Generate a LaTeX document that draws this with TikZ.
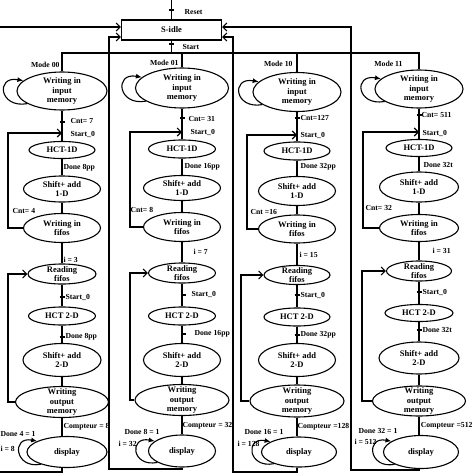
\documentclass[tikz,border=0pt]{standalone}
\usepackage{fontspec}
\setmainfont{Liberation Serif}
\usetikzlibrary{shapes.geometric,arrows.meta}
\newcommand\mytk[2]{\draw (#1-2.5,#2) -- (#1+2.5,#2);}
\begin{document}
\begin{tikzpicture}[x=1pt,y=-1pt,line width=1.1pt,
 st/.style n args={3}{ellipse,draw,fill=white,minimum width=#1,minimum height=#2,inner sep=0pt,
   label={[font=\fontsize{8.5}{9.6}\selectfont\bfseries,align=center,inner sep=0pt]center:#3}},
 lb/.style={font=\fontsize{7.7}{8}\selectfont\bfseries,inner sep=0pt,anchor=west},
 lbe/.style={lb,anchor=east},
 arr/.style={-{Straight Barb[length=4pt,width=8pt]}},
 lp/.style={-{Latex[length=6pt,width=5pt]}}]
\useasboundingbox (0,0) rectangle (474,474);

% S-idle
\node[draw,minimum width=100,minimum height=20,inner sep=0pt,font=\fontsize{8.5}{9}\selectfont\bfseries] (idle) at (171.5,30) {S-idle};
\coordinate (rs) at (171.5,-2);
\coordinate (bus) at (171.5,53);
\draw (rs) -- (idle.north);
\mytk{171.5}{10}
\node[lb] (lreset) at (184,12) {Reset};
\draw (idle.south) -- (bus);
\mytk{171.5}{44}
\node[lb] (lstart) at (182,47) {Start};

% ---------- column 1 ----------
\node[st={90}{38}{Writing in\\input\\memory}] (a1) at (62,91) {};
\node[st={66}{17}{HCT-1D}] (b1) at (62,150) {};
\node[st={77}{26}{Shift+ add\\1-D}] (c1) at (62,189) {};
\node[st={77}{29}{Writing in\\fifos}] (d1) at (62,228) {};
\node[st={68}{20}{Reading\\fifos}] (e1) at (62,274) {};
\node[st={67}{18}{HCT 2-D}] (f1) at (62,316) {};
\node[st={78}{33}{Shift+ add\\2-D}] (g1) at (62,360) {};
\node[st={93}{31}{Writing\\output\\memory}] (h1) at (62,402) {};
\node[st={80}{31}{display}] (k1) at (67,452) {};

% ---------- column 2 ----------
\node[st={93}{40}{Writing in\\input\\memory}] (a2) at (182,88) {};
\node[st={67}{18}{HCT-1D}] (b2) at (182,149) {};
\node[st={77}{25}{Shift+ add\\1-D}] (c2) at (182,188) {};
\node[st={77}{29}{Writing in\\fifos}] (d2) at (182,227) {};
\node[st={67}{20}{Reading\\fifos}] (e2) at (182,273) {};
\node[st={67}{18}{HCT 2-D}] (f2) at (182,316) {};
\node[st={77}{33}{Shift+ add\\2-D}] (g2) at (182,360) {};
\node[st={94}{31}{Writing\\output\\memory}] (h2) at (182,400) {};
\node[st={67}{32}{display}] (k2) at (182,451) {};

% ---------- column 3 ----------
\node[st={88}{39}{Writing in\\input\\memory}] (a3) at (297,92) {};
\node[st={66}{18}{HCT-1D}] (b3) at (297,151) {};
\node[st={77}{29}{Shift+ add\\1-D}] (c3) at (297,191) {};
\node[st={77}{28}{Writing in\\fifos}] (d3) at (297,229) {};
\node[st={66}{19}{Reading\\fifos}] (e3) at (297,275) {};
\node[st={66}{18}{HCT 2-D}] (f3) at (297,317) {};
\node[st={77}{33}{Shift+ add\\2-D}] (g3) at (297,360) {};
\node[st={94}{32}{Writing\\output\\memory}] (h3) at (297,401) {};
\node[st={75}{30}{display}] (k3) at (299,452) {};

% ---------- column 4 ----------
\node[st={88}{38}{Writing in\\input\\memory}] (a4) at (419,89) {};
\node[st={66}{17}{HCT-1D}] (b4) at (419,148) {};
\node[st={79}{30}{Shift+ add\\1-D}] (c4) at (419,187) {};
\node[st={79}{27}{Writing in\\fifos}] (d4) at (419,228) {};
\node[st={65}{20}{Reading\\fifos}] (e4) at (419,271) {};
\node[st={68}{17}{HCT 2-D}] (f4) at (419,313) {};
\node[st={80}{32}{Shift+ add\\2-D}] (g4) at (419,358) {};
\node[st={93}{30}{Writing\\output\\memory}] (h4) at (419,401) {};
\node[st={75}{33}{display}] (k4) at (421,452) {};

% bus from Start to all modes
\draw (a1.north) |- (bus) -| (a4.north);
\draw (a2.north) -- (a2 |- bus);
\draw (a3.north) -- (a3 |- bus);

% vertical chains
\foreach \c in {1,2,3,4}{
  \draw (a\c) -- (b\c);
  \draw (b\c) -- (c\c);
  \draw (c\c) -- (d\c);
  \draw (d\c) -- (e\c);
  \draw (e\c) -- (f\c);
  \draw (f\c) -- (g\c);
  \draw (g\c) -- (h\c);
  \draw (h\c.south) -- (h\c.south |- k\c.north);
  \draw[lp] (a\c.200) .. controls +(-28,5) and +(-28,-5) .. (a\c.165);
  \draw[lp] (k\c.205) .. controls +(-26,5) and +(-26,-5) .. (k\c.160);
}

% inner loops
\coordinate (p1) at (8,133);   \coordinate (q1) at (8,0);
\coordinate (p2) at (130,132); \coordinate (q2) at (130,0);
\coordinate (p3) at (247,135); \coordinate (q3) at (241,0);
\coordinate (p4) at (363,132); \coordinate (q4) at (362,0);
\foreach \c in {1,2,3,4}{
  \draw[arr] (d\c.west) -| (p\c) -- (p\c -| a\c);
  \draw[arr] (h\c.west) -| (q\c |- e\c.west) -- (e\c.west);
}

% returns to S-idle
\coordinate (u1) at (-1,472);  \coordinate (v1) at (0,27);
\coordinate (u2) at (109,469); \coordinate (v2) at (0,37);
\coordinate (u3) at (233,472); \coordinate (v3) at (0,37);
\coordinate (u4) at (351,470); \coordinate (v4) at (0,27);
\draw[arr] (k1.south -| a1) |- (u1) |- (idle.west |- v1);
\draw[arr] (k2.south -| a2) |- (u2) |- (idle.west |- v2);
\draw[arr] (k3.south -| a3) |- (u3) |- (idle.east |- v3);
\draw[arr] (k4.south -| a4) |- (u4) |- (idle.east |- v4);

% ---------- labels column 1 ----------
\node[lbe] (m1) at (60,65) {Mode 00};
\mytk{62}{122}
\node[lb] (n1a) at (70,121) {Cnt= 7};
\node[lb] (n1b) at (70,134) {Start\_0};
\node[lb] (n1c) at (63,168) {Done 8pp};
\node[lb] (n1d) at (12,211) {Cnt= 4};
\node[lb] (n1e) at (63,260) {i = 3};
\mytk{62}{297}
\node[lb] (n1f) at (65,297) {Start\_0};
\mytk{62}{337}
\node[lb] (n1g) at (65,337) {Done 8pp};
\node[lb] (n1h) at (63,427) {Compteur = 8};
\node[lb] (n1i) at (0,434) {Done 4 = 1};
\node[lb] (n1j) at (0,449) {i = 8};

% ---------- labels column 2 ----------
\node[lbe] (m2) at (179,63) {Mode 01};
\mytk{182}{118}
\node[lb] (n2a) at (188,119) {Cnt= 31};
\node[lb] (n2b) at (190,132) {Start\_0};
\node[lb] (n2c) at (184,167) {Done 16pp};
\node[lb] (n2d) at (130,210) {Cnt= 8};
\node[lb] (n2e) at (193,252) {i = 7};
\mytk{183}{295}
\node[lb] (n2f) at (191,294) {Start\_0};
\mytk{183}{334}
\node[lb] (n2g) at (194,334) {Done 16pp};
\node[lb] (n2h) at (182,426) {Compteur = 32};
\node[lb] (n2i) at (124,432) {Done 8 = 1};
\node[lb] (n2j) at (118,444) {i = 32};

% ---------- labels column 3 ----------
\node[lbe] (m3) at (293,64) {Mode 10};
\mytk{297}{118}
\node[lb] (n3a) at (300,118) {Cnt=127};
\node[lb] (n3b) at (300,135) {Start\_0};
\node[lb] (n3c) at (300,167) {Done 32pp};
\node[lb] (n3d) at (250,212) {Cnt =16};
\node[lb] (n3e) at (299,255) {i = 15};
\mytk{297}{295}
\node[lb] (n3f) at (300,295) {Start\_0};
\mytk{297}{335}
\node[lb] (n3g) at (300,335) {Done 32pp};
\node[lb] (n3h) at (297,427) {Compteur =128};
\node[lb] (n3i) at (244,432) {Done 16 = 1};
\node[lb] (n3j) at (237,444) {i = 128};

% ---------- labels column 4 ----------
\node[lbe] (m4) at (403,64) {Mode 11};
\mytk{419}{115}
\node[lb] (n4a) at (421,115) {Cnt= 511};
\node[lb] (n4b) at (422,133) {Start\_0};
\node[lb] (n4c) at (423,165) {Done 32t};
\node[lb] (n4d) at (365,208) {Cnt= 32};
\node[lb] (n4e) at (432,251) {i = 31};
\mytk{419}{292}
\node[lb] (n4f) at (422,292) {Start\_0};
\mytk{419}{330}
\node[lb] (n4g) at (422,330) {Done 32t};
\node[lb] (n4h) at (473,426) [anchor=east] {Compteur =512};
\node[lb] (n4i) at (358,431) {Done 32 = 1};
\node[lb] (n4j) at (354,442) {i = 512};
\end{tikzpicture}
\end{document}
